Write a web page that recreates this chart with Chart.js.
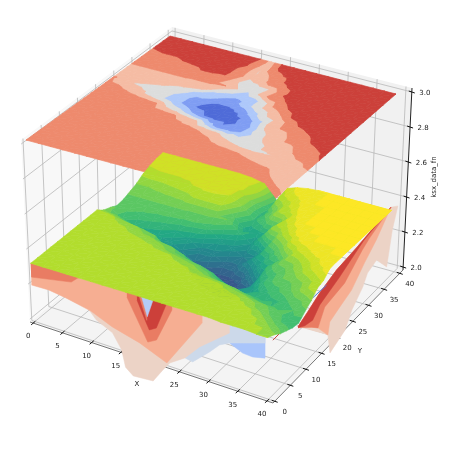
<!DOCTYPE html>
<html>
<head>
<meta charset="utf-8">
<style>
  html, body { margin: 0; padding: 0; background: #fff; }
  canvas { display: block; filter: blur(0.35px); }
</style>
<script src="https://cdn.jsdelivr.net/npm/chart.js@4/dist/chart.umd.min.js"></script>
</head>
<body>
<canvas id="grafico" width="460" height="460"></canvas>
<script>
// ticks
var xTicks = [0, 5, 10, 15, 20, 25, 30, 35, 40];
var yTicks = [0, 5, 10, 15, 20, 25, 30, 35, 40];
var zTicks = [2.0, 2.2, 2.4, 2.6, 2.8, 3.0];
var xTickLabels = ["0", "5", "10", "15", "", "25", "30", "35", "40"];
var yTickLabels = ["0", "5", "10", "15", "20", "25", "30", "35", "40"];
var zTickLabels = ["2.0", "2.2", "2.4", "2.6", "2.8", "3.0"];

// surface heights, one row per y = 0, 2, ... 40, one value per x = 0, 2, ... 40
var gridStep = 2;
var zRows = [
  [2.33,2.33,2.33,2.33,2.33,2.33,2.33,2.33,2.33,2.33,2.33,2.33,2.33,2.33,2.33,2.33,2.325,2.325,2.325,2.32,2.32],
  [2.33,2.33,2.33,2.33,2.33,2.33,2.33,2.33,2.33,2.33,2.33,2.33,2.33,2.33,2.33,2.33,2.33,2.33,2.325,2.32,2.305],
  [2.33,2.33,2.33,2.33,2.33,2.33,2.33,2.33,2.33,2.33,2.33,2.33,2.33,2.33,2.33,2.33,2.33,2.33,2.32,2.30,2.28],
  [2.33,2.33,2.33,2.33,2.33,2.33,2.33,2.33,2.33,2.33,2.33,2.33,2.33,2.33,2.33,2.33,2.33,2.32,2.30,2.28,2.265],
  [2.33,2.33,2.33,2.33,2.33,2.33,2.33,2.33,2.33,2.33,2.33,2.33,2.33,2.33,2.33,2.325,2.315,2.295,2.28,2.26,2.25],
  [2.33,2.33,2.33,2.33,2.33,2.33,2.33,2.33,2.33,2.33,2.33,2.33,2.33,2.325,2.315,2.305,2.295,2.285,2.27,2.25,2.245],
  [2.33,2.33,2.33,2.33,2.33,2.33,2.33,2.33,2.33,2.325,2.32,2.31,2.30,2.295,2.285,2.27,2.255,2.24,2.245,2.26,2.275],
  [2.33,2.33,2.33,2.33,2.33,2.33,2.33,2.325,2.32,2.31,2.30,2.285,2.26,2.24,2.225,2.22,2.225,2.235,2.26,2.275,2.30],
  [2.33,2.33,2.33,2.33,2.325,2.32,2.315,2.30,2.29,2.28,2.27,2.25,2.215,2.195,2.18,2.22,2.245,2.265,2.285,2.315,2.335],
  [2.33,2.33,2.325,2.32,2.31,2.305,2.295,2.285,2.26,2.23,2.15,2.09,2.10,2.14,2.20,2.245,2.27,2.275,2.295,2.32,2.345],
  [2.33,2.325,2.315,2.305,2.295,2.28,2.215,2.185,2.13,2.08,2.06,2.065,2.085,2.13,2.22,2.25,2.275,2.30,2.33,2.35,2.375],
  [2.30,2.29,2.265,2.24,2.21,2.18,2.15,2.11,2.07,2.055,2.055,2.06,2.09,2.15,2.245,2.28,2.29,2.32,2.345,2.37,2.38],
  [2.285,2.245,2.225,2.215,2.205,2.19,2.155,2.115,2.09,2.07,2.07,2.09,2.15,2.215,2.235,2.285,2.335,2.355,2.375,2.38,2.38],
  [2.265,2.265,2.255,2.245,2.235,2.215,2.195,2.15,2.15,2.11,2.115,2.16,2.21,2.24,2.285,2.345,2.37,2.38,2.38,2.38,2.38],
  [2.27,2.27,2.27,2.27,2.27,2.265,2.265,2.25,2.19,2.17,2.14,2.155,2.215,2.30,2.335,2.37,2.38,2.38,2.38,2.38,2.38],
  [2.285,2.285,2.285,2.285,2.285,2.285,2.285,2.285,2.28,2.23,2.18,2.24,2.31,2.33,2.36,2.38,2.38,2.38,2.38,2.38,2.38],
  [2.30,2.30,2.305,2.31,2.315,2.33,2.33,2.33,2.26,2.20,2.21,2.22,2.285,2.35,2.37,2.38,2.38,2.38,2.38,2.38,2.38],
  [2.325,2.33,2.33,2.335,2.34,2.345,2.345,2.34,2.30,2.235,2.26,2.315,2.33,2.36,2.375,2.38,2.38,2.38,2.38,2.38,2.38],
  [2.34,2.345,2.345,2.345,2.345,2.345,2.345,2.345,2.30,2.225,2.28,2.32,2.35,2.37,2.38,2.38,2.38,2.38,2.38,2.38,2.38],
  [2.35,2.35,2.35,2.35,2.35,2.35,2.35,2.345,2.33,2.235,2.33,2.355,2.365,2.375,2.38,2.38,2.38,2.38,2.38,2.38,2.38],
  [2.355,2.355,2.355,2.355,2.355,2.355,2.355,2.35,2.335,2.255,2.345,2.365,2.375,2.38,2.38,2.38,2.38,2.38,2.38,2.38,2.38]
];

// filled bands of the contour at the top of the box
var topLevels = [1.9, 2.08, 2.13, 2.18, 2.23, 2.28, 2.335, 2.5];
var topColors = ["#4f6bd8", "#7f9df3", "#aec8fa", "#dcdddc", "#f5bca4", "#ee8a6d", "#cc403a"];
var topZ = 3;

// the surface is a bit shorter than the box along y
var surfaceYScale = 0.95;
var surfaceLevels = [2.04, 2.06, 2.08, 2.10, 2.12, 2.14, 2.16, 2.18, 2.20, 2.22, 2.24, 2.26, 2.28, 2.30, 2.32, 2.34, 2.36, 2.38, 2.40];
var viridisStops = ["#440154", "#482475", "#414487", "#355f8d", "#2a788e", "#21918c", "#22a884", "#44bf70", "#7ad151", "#bddf26", "#fde725"];
var viridisMin = 1.953;
var viridisMax = 2.38;

// sheet hanging under the front edge (plane y = 0): x and z of each band
var sheetTopZ = 2.33;
var frontLightBlueX = [33.5, 35.7, 37.4, 39.5];
var frontLightBlueZ = [2.231, 2.2, 2.196, 2.21];
var frontGreyBlueX = [25.9, 27.2, 30.1, 31.8, 33.5, 39.5];
var frontGreyBlueZ = [2.08, 2.072, 2.152, 2.205, 2.231, 2.287];
var frontBeigeX = [9.7, 10.9, 13.6, 15.1, 15.7, 17, 20.4, 22.1, 23.3, 25.9, 28.4, 33.5];
var frontBeigeZ = [2.174, 2.132, 2.091, 2.015, 1.929, 1.896, 1.904, 1.979, 2.028, 2.08, 2.162, 2.283];
var frontPeachX = [0, 2.9, 5.8, 10, 13.6, 18.2, 22.8, 28.9];
var frontPeachZ = [2.212, 2.214, 2.2, 2.171, 2.122, 2.083, 2.023, 2.292];
var frontSalmonLeftX = [0, 6.8, 8];
var frontSalmonLeftZ = [2.255, 2.295, 2.33];
var frontSalmonX = [16.2, 19.6, 21.1, 23.8];
var frontSalmonZ = [2.306, 2.101, 2.127, 2.311];
var frontRedX = [17.9, 19.4, 19.9, 21.1, 22.8];
var frontRedZ = [2.307, 2.2, 2.168, 2.19, 2.327];
var frontInnerX = [18.3, 19.5, 19.7];
var frontInnerZ = [2.33, 2.215, 2.33];
var frontTipX = [18.7, 19.6, 20.6];
var frontTipZ = [2.33, 2.235, 2.33];

// sheet hanging under the right edge (plane x = 40): y and z of each band
var rightEdgeY = [9.2, 12.2, 15.9, 21.1, 27.2, 34.2, 37.9];
var rightEdgeZ = [2.229, 2.258, 2.298, 2.336, 2.354, 2.38, 2.40];
var rightBeigeY = [18.3, 18.9, 23.5, 25.6, 29, 30.5, 33.3, 36.3, 38.2, 40];
var rightBeigeZ = [2.034, 1.928, 1.971, 2.043, 2.11, 2.161, 2.185, 2.094, 2.268, 2.371];
var rightPeachY = [15.3, 18.3, 18.9, 22, 25.6, 29.6, 33.3, 35.4];
var rightPeachZ = [2.122, 2.034, 2.094, 2.122, 2.152, 2.232, 2.296, 2.343];
var rightSalmonY = [9.2, 13.4, 15.3, 17.4, 23.5, 29, 31.2];
var rightSalmonZ = [2.224, 2.158, 2.122, 2.199, 2.225, 2.313, 2.34];
var rightRedY = [9.2, 11.3, 13.7, 15.9, 22, 27.5, 29.6];
var rightRedZ = [2.224, 2.2, 2.19, 2.235, 2.283, 2.338, 2.358];

// thin contour leftovers beside the surface edge (plane x = 40)
var sliverBlueY = [13.7, 18];
var sliverBlueZ = [2.307, 2.306];
var sliverRedY = [1.5, 6.1];
var sliverRedZ = [2.283, 2.288];

// corners x0y0, x40y0, x40y40, x0y40 of the data box, on the chart's scales
var floorBox = [[33, 324], [268, 400], [399, 272], [170, 208]];
var ceilBox = [[26, 140], [268, 205], [396, 94], [170, 36]];

function bilinear(box, u, v) {
  return [
    box[0][0] * (1 - u) * (1 - v) + box[1][0] * u * (1 - v) + box[2][0] * u * v + box[3][0] * (1 - u) * v,
    box[0][1] * (1 - u) * (1 - v) + box[1][1] * u * (1 - v) + box[2][1] * u * v + box[3][1] * (1 - u) * v
  ];
}

function project(x, y, z) {
  var a = bilinear(floorBox, x / 40, y / 40);
  var b = bilinear(ceilBox, x / 40, y / 40);
  var t = z - 2;
  return { x: a[0] + (b[0] - a[0]) * t, y: a[1] + (b[1] - a[1]) * t };
}

// surface sits lower than the top contour, so its far side reads a bit shifted along x
function projectSurface(x, y, z) {
  var far = Math.max(0, (y - 20) / 20);
  var shift = x < 18 ? x * (2 / 18) : (40 - x) * (2 / 22);
  return project(x + far * shift, y * surfaceYScale, z);
}

// pane corners, a little larger than the data box
var paneFloor = { a: [30, 322], b: [273, 403], c: [403, 270], d: [171, 206] };
var paneTop = { a: [21, 140], c: [412, 88], d: [172, 27] };

function mix(p, q, f) {
  return { x: p[0] + (q[0] - p[0]) * f, y: p[1] + (q[1] - p[1]) * f };
}

function tickFrac(v) { return 0.013 + (v / 40) * 0.962; }
function zFrac(z) { return 0.016 + (z - 2) * 0.962; }

var datasets = [];

function addShape(points, color, width) {
  datasets.push({
    data: points,
    showLine: true,
    fill: "shape",
    backgroundColor: color,
    borderColor: color,
    borderWidth: width,
    pointRadius: 0,
    tension: 0,
    clip: false
  });
}

function addLine(points, color, width) {
  datasets.push({
    data: points,
    showLine: true,
    fill: false,
    borderColor: color,
    borderWidth: width,
    pointRadius: 0,
    tension: 0,
    clip: false
  });
}

// panes and grid
function drawPanes() {
  addShape([mix(paneFloor.a, paneFloor.a, 0), mix(paneFloor.b, paneFloor.b, 0), mix(paneFloor.c, paneFloor.c, 0), mix(paneFloor.d, paneFloor.d, 0)], "#f4f4f4", 0);
  addShape([mix(paneFloor.a, paneFloor.a, 0), mix(paneTop.a, paneTop.a, 0), mix(paneTop.d, paneTop.d, 0), mix(paneFloor.d, paneFloor.d, 0)], "#f8f8f8", 0);
  addShape([mix(paneFloor.d, paneFloor.d, 0), mix(paneTop.d, paneTop.d, 0), mix(paneTop.c, paneTop.c, 0), mix(paneFloor.c, paneFloor.c, 0)], "#f1f1f1", 0);

  var gridColor = "#b8b8b8";
  xTicks.forEach(function(v) {
    var f = tickFrac(v);
    var front = mix(paneFloor.a, paneFloor.b, f);
    var back = mix(paneFloor.d, paneFloor.c, f);
    var top = mix(paneTop.d, paneTop.c, f);
    addLine([front, back, top], gridColor, 0.8);
  });
  yTicks.forEach(function(v) {
    var f = tickFrac(v);
    var right = mix(paneFloor.b, paneFloor.c, f);
    var left = mix(paneFloor.a, paneFloor.d, f);
    var top = mix(paneTop.a, paneTop.d, f);
    addLine([right, left, top], gridColor, 0.8);
  });
  zTicks.forEach(function(z) {
    var f = zFrac(z);
    var left = mix(paneFloor.a, paneTop.a, f);
    var back = mix(paneFloor.d, paneTop.d, f);
    var right = mix(paneFloor.c, paneTop.c, f);
    addLine([left, back, right], gridColor, 0.8);
  });

  // axis lines and tick marks
  addLine([mix(paneFloor.a, paneFloor.b, 0), mix(paneFloor.a, paneFloor.b, 1)], "#555", 0.8);
  addLine([mix(paneFloor.b, paneFloor.c, 0), mix(paneFloor.b, paneFloor.c, 1)], "#555", 0.8);
  addLine([mix(paneFloor.c, paneTop.c, 0), mix(paneFloor.c, paneTop.c, 1)], "#222", 1);
  xTicks.forEach(function(v) {
    var p = mix(paneFloor.a, paneFloor.b, tickFrac(v));
    addLine([{ x: p.x + 2.2, y: p.y - 1.8 }, { x: p.x - 2, y: p.y + 1.8 }], "#111", 1);
  });
  yTicks.forEach(function(v) {
    var p = mix(paneFloor.b, paneFloor.c, tickFrac(v));
    addLine([{ x: p.x - 3, y: p.y - 1 }, { x: p.x + 3, y: p.y + 1 }], "#111", 1);
  });
  zTicks.forEach(function(z) {
    var p = mix(paneFloor.c, paneTop.c, zFrac(z));
    addLine([{ x: p.x - 3, y: p.y - 1 }, { x: p.x + 3, y: p.y + 1 }], "#111", 1);
  });
}

// keep the part of a triangle between two levels
function clipTriangle(tri, lo, hi) {
  var poly = clipSide(tri, lo, true);
  return clipSide(poly, hi, false);
}

function clipSide(poly, level, above) {
  var out = [];
  for (var i = 0; i < poly.length; i++) {
    var p = poly[i];
    var q = poly[(i + 1) % poly.length];
    var pIn = above ? p[2] >= level : p[2] <= level;
    var qIn = above ? q[2] >= level : q[2] <= level;
    if (pIn) out.push(p);
    if (pIn !== qIn) {
      var f = (level - p[2]) / (q[2] - p[2]);
      out.push([p[0] + (q[0] - p[0]) * f, p[1] + (q[1] - p[1]) * f, level]);
    }
  }
  return out;
}

function cellTriangles(i, j) {
  var x0 = i * gridStep;
  var x1 = x0 + gridStep;
  var y0 = j * gridStep;
  var y1 = y0 + gridStep;
  var a = [x0, y0, zRows[j][i]];
  var b = [x1, y0, zRows[j][i + 1]];
  var c = [x1, y1, zRows[j + 1][i + 1]];
  var d = [x0, y1, zRows[j + 1][i]];
  return [[a, d, c], [a, c, b]];
}

function closeShape(pts) {
  pts.push(pts[0]);
  pts.push({ x: null, y: null });
  return pts;
}

function drawTopContour() {
  for (var k = 0; k < topColors.length; k++) {
    var pts = [];
    for (var j = 0; j < zRows.length - 1; j++) {
      for (var i = 0; i < zRows[j].length - 1; i++) {
        cellTriangles(i, j).forEach(function(tri) {
          var poly = clipTriangle(tri, topLevels[k], topLevels[k + 1]);
          if (poly.length > 2) {
            pts = pts.concat(closeShape(poly.map(function(p) { return project(p[0], p[1], topZ); })));
          }
        });
      }
    }
    addShape(pts, topColors[k], 0.7);
  }
}

function viridis(z) {
  var v = Math.min(1, Math.max(0, (z - viridisMin) / (viridisMax - viridisMin))) * (viridisStops.length - 1);
  var n = Math.min(viridisStops.length - 2, Math.floor(v));
  var f = v - n;
  var c = [1, 3, 5].map(function(s) {
    var p = parseInt(viridisStops[n].substr(s, 2), 16);
    var q = parseInt(viridisStops[n + 1].substr(s, 2), 16);
    return Math.round(p + (q - p) * f);
  });
  return "rgb(" + c.join(",") + ")";
}

// from the far corner (x = 0, y = 40) to the near one (x = 40, y = 0)
function drawSurface() {
  for (var j = zRows.length - 2; j >= 0; j--) {
    for (var i = 0; i < zRows[j].length - 1; i++) {
      var tris = cellTriangles(i, j);
      for (var k = 0; k < surfaceLevels.length - 1; k++) {
        var pts = [];
        tris.forEach(function(tri) {
          var poly = clipTriangle(tri, surfaceLevels[k], surfaceLevels[k + 1]);
          if (poly.length > 2) {
            pts = pts.concat(closeShape(poly.map(function(p) { return projectSurface(p[0], p[1], p[2]); })));
          }
        });
        if (pts.length) addShape(pts, viridis((surfaceLevels[k] + surfaceLevels[k + 1]) / 2), 0.6);
      }
    }
  }
}

function frontBand(xs, zs, color) {
  var pts = xs.map(function(x, i) { return project(x, 0, zs[i]); });
  pts.push(project(xs[xs.length - 1], 0, sheetTopZ));
  pts.push(project(xs[0], 0, sheetTopZ));
  addShape(pts, color, 0.5);
}

function rightBand(ys, zs, color) {
  var pts = ys.map(function(y, i) { return project(40, y, zs[i]); });
  var last = ys[ys.length - 1];
  for (var i = rightEdgeY.length - 1; i >= 0; i--) {
    if (rightEdgeY[i] <= last || i === rightEdgeY.length - 1) {
      pts.push(project(40, rightEdgeY[i], rightEdgeZ[i]));
    }
  }
  addShape(pts, color, 0.5);
}

function drawSheets() {
  frontBand(frontLightBlueX, frontLightBlueZ, "#a9c5fb");
  frontBand(frontGreyBlueX, frontGreyBlueZ, "#ccd9ea");
  frontBand(frontBeigeX, frontBeigeZ, "#ecd3c6");
  frontBand(frontPeachX, frontPeachZ, "#f6ae92");
  frontBand(frontSalmonLeftX, frontSalmonLeftZ, "#e97c63");
  frontBand(frontSalmonX, frontSalmonZ, "#e97c63");
  frontBand(frontRedX, frontRedZ, "#cc403a");
  frontBand(frontInnerX, frontInnerZ, "#e97c63");
  frontBand(frontTipX, frontTipZ, "#b4cbf6");

  rightBand(rightBeigeY, rightBeigeZ, "#ecd3c6");
  rightBand(rightPeachY, rightPeachZ, "#f6ae92");
  rightBand(rightSalmonY, rightSalmonZ, "#e97c63");
  rightBand(rightRedY, rightRedZ, "#cc403a");

  addLine(sliverBlueY.map(function(y, i) { return project(40, y, sliverBlueZ[i]); }), "#5b7fe0", 1);
  addLine(sliverRedY.map(function(y, i) { return project(40, y, sliverRedZ[i]); }), "#cc403a", 1);
}

drawPanes();
drawTopContour();
drawSheets();
drawSurface();

// tick labels and axis titles
var axisText = {
  id: "axisText",
  afterDatasetsDraw: function(chart) {
    var ctx = chart.ctx;
    var sx = chart.scales.x;
    var sy = chart.scales.y;
    function put(text, x, y, size) {
      ctx.font = size + "px 'DejaVu Sans'";
      ctx.fillText(text, sx.getPixelForValue(x), sy.getPixelForValue(y));
    }
    ctx.save();
    ctx.fillStyle = "#222";
    ctx.textAlign = "center";
    ctx.textBaseline = "middle";
    xTicks.forEach(function(v, i) {
      var p = mix(paneFloor.a, paneFloor.b, tickFrac(v));
      put(xTickLabels[i], p.x - 5, p.y + 13.5, 7);
    });
    yTicks.forEach(function(v, i) {
      var p = mix(paneFloor.b, paneFloor.c, tickFrac(v));
      put(yTickLabels[i], p.x + 10, p.y + 11, 7);
    });
    zTicks.forEach(function(z, i) {
      var p = mix(paneFloor.c, paneTop.c, zFrac(z));
      put(zTickLabels[i], p.x + 13, p.y + 1, 7);
    });
    put("X", 137, 384, 7);
    put("Y", 360, 351, 7);
    ctx.translate(sx.getPixelForValue(434), sy.getPixelForValue(177));
    ctx.rotate(-Math.PI / 2);
    ctx.font = "7px 'DejaVu Sans'";
    ctx.fillText("ksx_data_fn", 0, 0);
    ctx.restore();
  }
};

new Chart(document.getElementById("grafico"), {
  type: "scatter",
  data: { datasets: datasets.reverse() },
  options: {
    responsive: false,
    animation: false,
    events: [],
    layout: { padding: 0 },
    plugins: { legend: { display: false }, tooltip: { enabled: false } },
    scales: {
      x: { type: "linear", min: 0, max: 460, display: false },
      y: { type: "linear", min: 0, max: 460, reverse: true, display: false }
    }
  },
  plugins: [axisText]
});
</script>
</body>
</html>
